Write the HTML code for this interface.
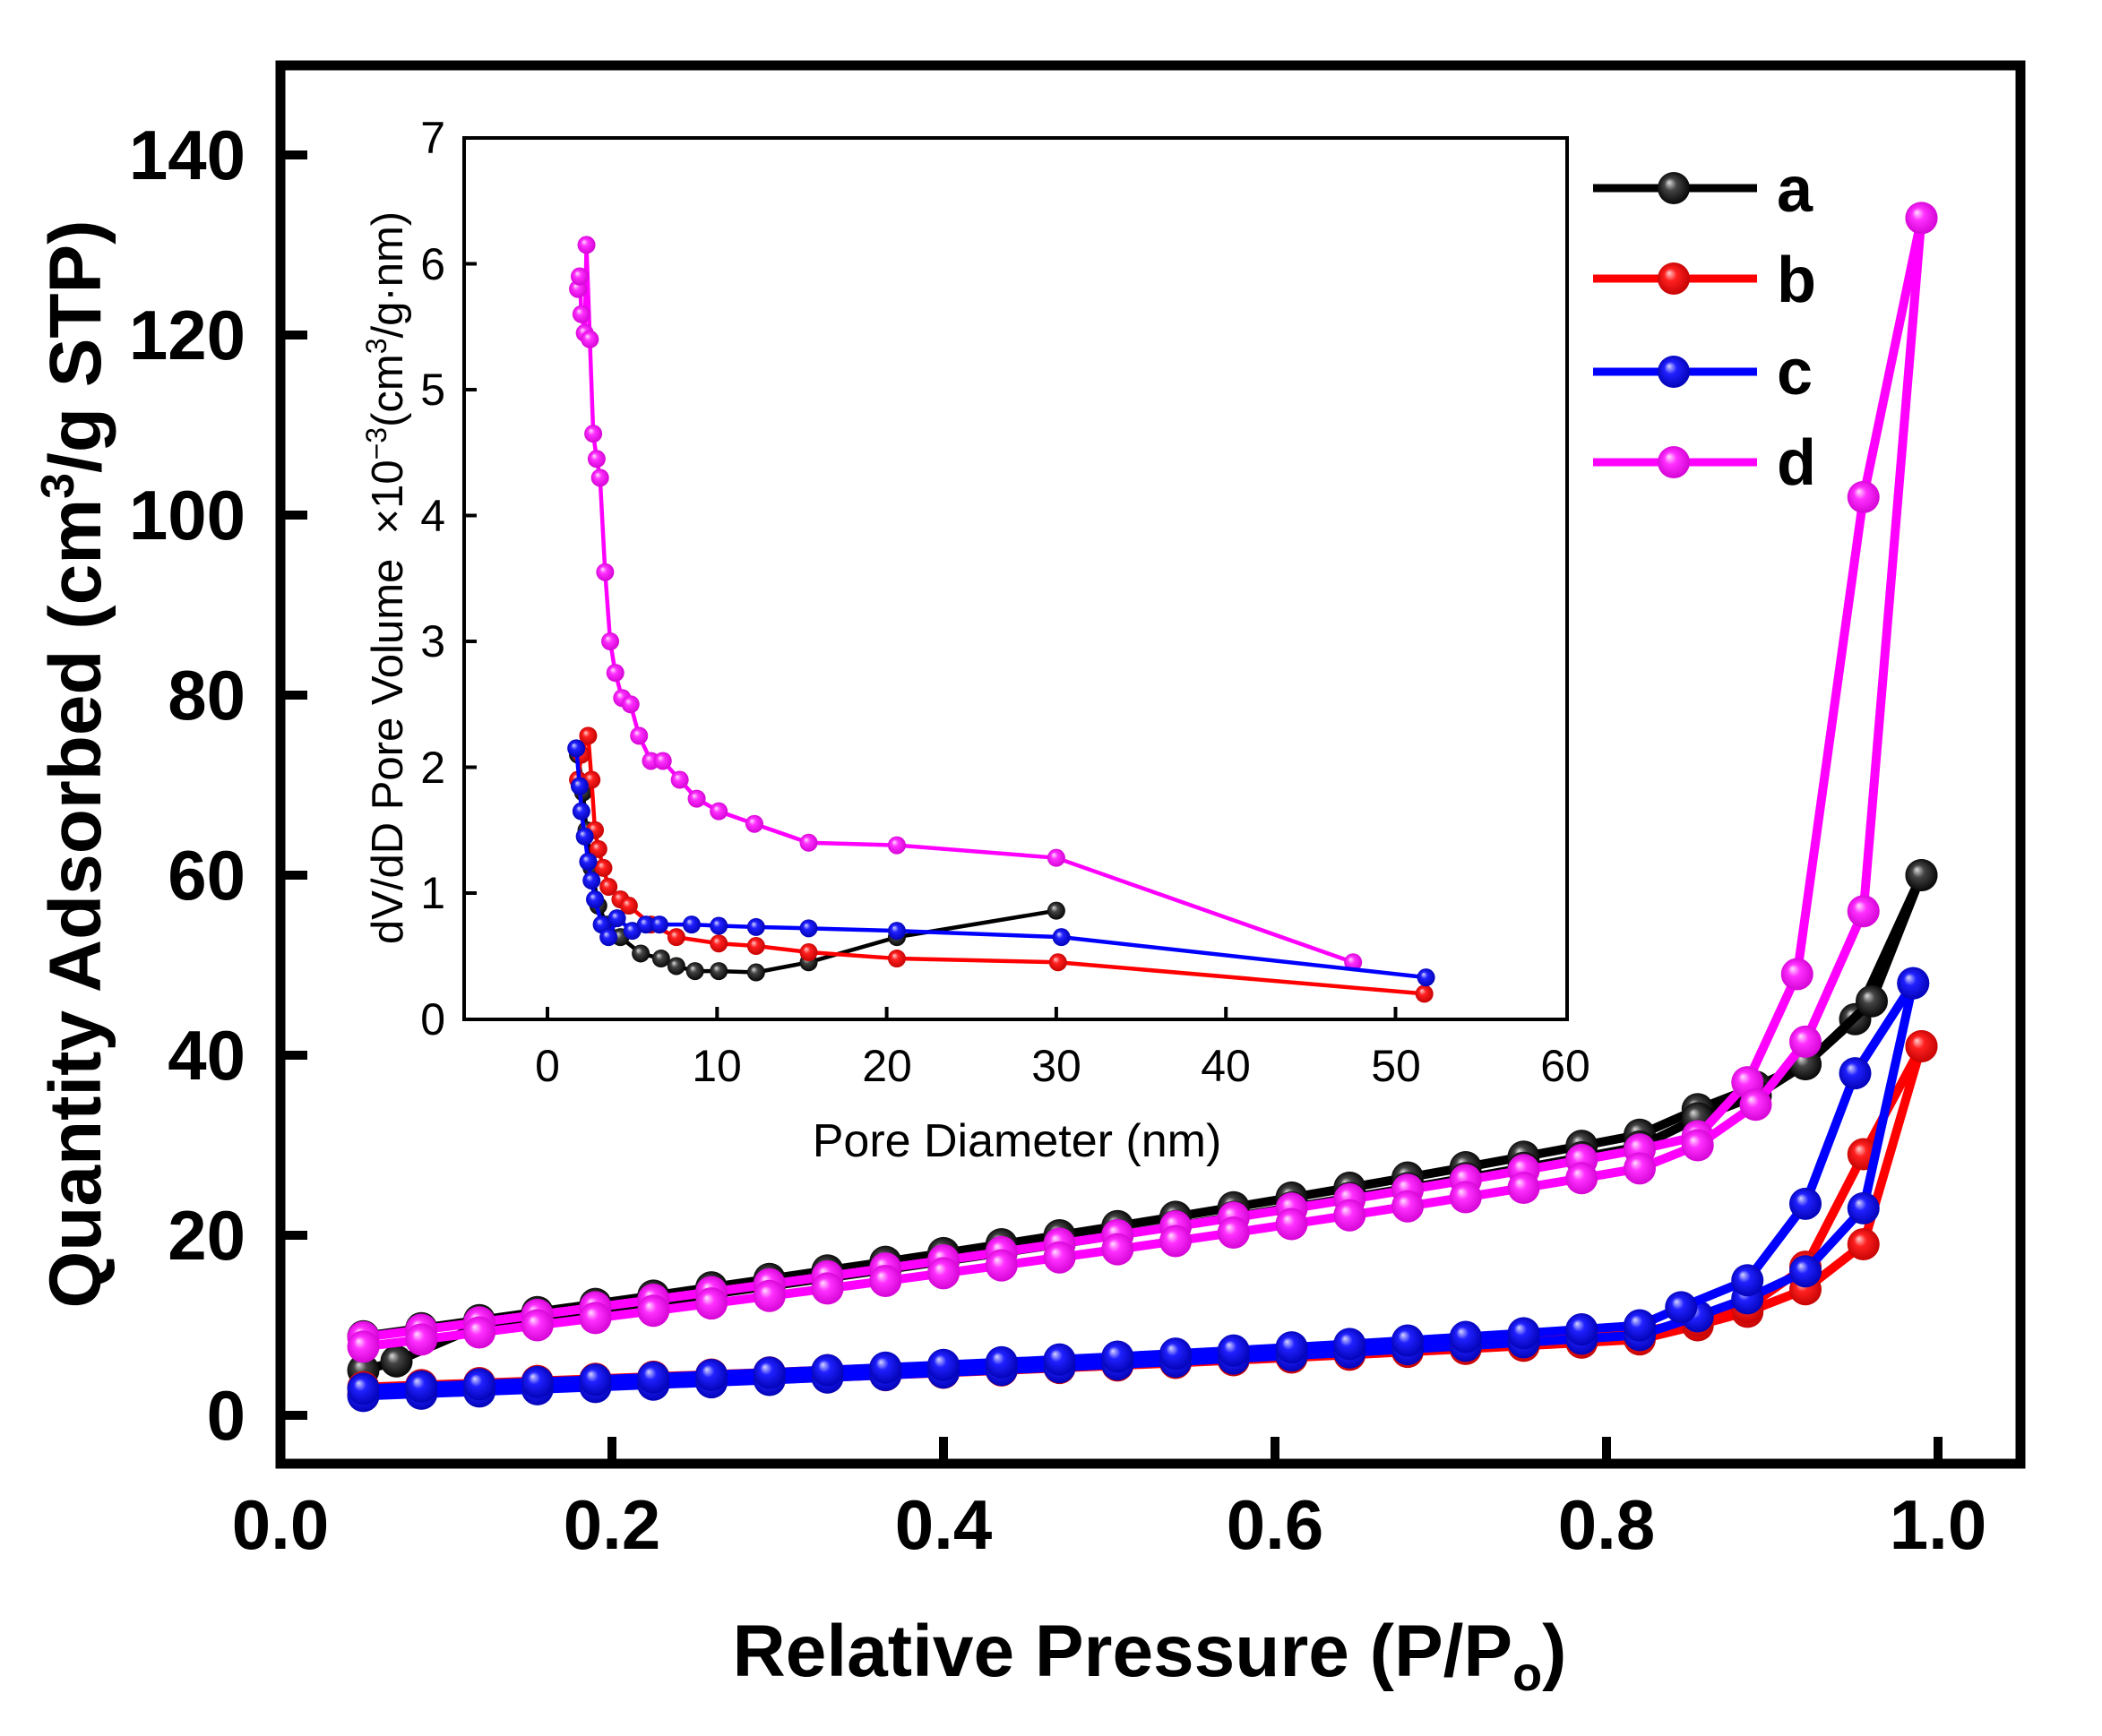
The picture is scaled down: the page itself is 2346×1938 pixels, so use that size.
<!DOCTYPE html>
<html><head><meta charset="utf-8">
<style>
html,body{margin:0;padding:0;background:#fff;}
svg{display:block;}
.b{font-family:"Liberation Sans",Arial,sans-serif;font-weight:bold;}
.r{font-family:"Liberation Sans",Arial,sans-serif;}
</style></head>
<body>
<svg id="s" width="2346" height="1938" viewBox="0 0 2346 1938" xmlns="http://www.w3.org/2000/svg">
<defs>
<radialGradient id="gk" cx="50%" cy="50%" r="55%" fx="35%" fy="32%"><stop offset="0" stop-color="#ddd"/><stop offset="0.35" stop-color="#444"/><stop offset="1" stop-color="#000"/></radialGradient>
<radialGradient id="gr" cx="50%" cy="50%" r="55%" fx="35%" fy="32%"><stop offset="0" stop-color="#ffd0d0"/><stop offset="0.35" stop-color="#ff2020"/><stop offset="1" stop-color="#c00000"/></radialGradient>
<radialGradient id="gb" cx="50%" cy="50%" r="55%" fx="35%" fy="32%"><stop offset="0" stop-color="#d8d8ff"/><stop offset="0.35" stop-color="#2020ff"/><stop offset="1" stop-color="#0000b0"/></radialGradient>
<radialGradient id="gm" cx="50%" cy="50%" r="55%" fx="35%" fy="32%"><stop offset="0" stop-color="#ffe0ff"/><stop offset="0.35" stop-color="#ff30ff"/><stop offset="1" stop-color="#d000d0"/></radialGradient>
</defs>
<g id="main"></g>
<rect x="313" y="73" width="1942" height="1561" fill="none" stroke="#000" stroke-width="11"/>
<g stroke="#000" stroke-width="10">
<line x1="313" y1="1580" x2="343" y2="1580"/><line x1="313" y1="1379" x2="343" y2="1379"/><line x1="313" y1="1178" x2="343" y2="1178"/><line x1="313" y1="977" x2="343" y2="977"/><line x1="313" y1="776" x2="343" y2="776"/><line x1="313" y1="575" x2="343" y2="575"/><line x1="313" y1="374" x2="343" y2="374"/><line x1="313" y1="173" x2="343" y2="173"/>
<line x1="683" y1="1634" x2="683" y2="1604"/><line x1="1053" y1="1634" x2="1053" y2="1604"/><line x1="1423" y1="1634" x2="1423" y2="1604"/><line x1="1793" y1="1634" x2="1793" y2="1604"/><line x1="2163" y1="1634" x2="2163" y2="1604"/>
</g>
<g class="b" font-size="78" text-anchor="end">
<text x="274" y="1607">0</text><text x="274" y="1406">20</text><text x="274" y="1205">40</text><text x="274" y="1004">60</text><text x="274" y="803">80</text><text x="274" y="602">100</text><text x="274" y="401">120</text><text x="274" y="200">140</text>
</g>
<g class="b" font-size="78" text-anchor="middle">
<text x="313" y="1729">0.0</text><text x="683" y="1729">0.2</text><text x="1053" y="1729">0.4</text><text x="1423" y="1729">0.6</text><text x="1793" y="1729">0.8</text><text x="2163" y="1729">1.0</text>
</g>
<text class="b" font-size="82" x="1283" y="1871" text-anchor="middle">Relative Pressure (P/P<tspan font-size="54" dy="16">o</tspan><tspan dy="-16">)</tspan></text>
<text class="b" font-size="82" transform="translate(112,853) rotate(-90)" text-anchor="middle">Quantity Adsorbed (cm<tspan font-size="52" dy="-30">3</tspan><tspan dy="30">/g STP)</tspan></text>

<g id="inset"></g>
<rect x="518" y="154" width="1231" height="984" fill="none" stroke="#000" stroke-width="4"/>
<g stroke="#000" stroke-width="4" id="itk"></g>
<g class="r" font-size="50" text-anchor="end">
<text x="497" y="1155">0</text><text x="497" y="1014">1</text><text x="497" y="874">2</text><text x="497" y="733">3</text><text x="497" y="593">4</text><text x="497" y="452">5</text><text x="497" y="312">6</text><text x="497" y="171">7</text>
</g>
<g class="r" font-size="50" text-anchor="middle">
<text x="611" y="1207">0</text><text x="800" y="1207">10</text><text x="990" y="1207">20</text><text x="1179" y="1207">30</text><text x="1368" y="1207">40</text><text x="1558" y="1207">50</text><text x="1747" y="1207">60</text>
</g>
<text class="r" font-size="52" x="1135" y="1291" text-anchor="middle">Pore Diameter (nm)</text>
<text class="r" font-size="49" transform="translate(449,645) rotate(-90)" text-anchor="middle" xml:space="preserve">dV/dD Pore Volume  ×10<tspan font-size="32" dy="-18">−3</tspan><tspan dy="18">(cm</tspan><tspan font-size="32" dy="-18">3</tspan><tspan dy="18">/g·nm)</tspan></text>

<g id="leg"></g>
<g class="b" font-size="72">
<text x="1983" y="236">a</text><text x="1983" y="337">b</text><text x="1983" y="440">c</text><text x="1983" y="541">d</text>
</g>
</svg>
<script>
var NS="http://www.w3.org/2000/svg";
function el(p,t,a){var e=document.createElementNS(NS,t);for(var k in a)e.setAttribute(k,a[k]);p.appendChild(e);return e;}
var C={a:["#000","url(#gk)"],b:["#f00","url(#gr)"],c:["#0000ff","url(#gb)"],d:["#ff00ff","url(#gm)"]};
var mx=function(p){return 313+p*1850;}, my=function(v){return 1580-v*10.05;};
var P=[0.05,0.085,0.12,0.155,0.19,0.225,0.26,0.295,0.33,0.365,0.4,0.435,0.47,0.505,0.54,0.575,0.61,0.645,0.68,0.715,0.75,0.785,0.82];
function mk(f){return P.map(function(p){return [p,f(p)];});}
var S={};
S.a=[mk(function(p){return 7.5+25.5*p+5*p*p*p;}).concat([[0.855,34],[0.89,36.5],[0.92,39],[0.95,44],[0.99,60]]),
     [[0.05,5],[0.07,6]].concat(mk(function(p){return 7+24.5*p+5*p*p*p;}).slice(2)).concat([[0.855,33],[0.89,35.5],[0.92,39],[0.96,46],[0.99,60]])];
S.d=[mk(function(p){return 7.5+23.5*p+5*p*p*p;}).concat([[0.855,31],[0.885,37],[0.915,49],[0.955,102],[0.99,133]]),
     mk(function(p){return 6.5+22.5*p+4.5*p*p*p;}).concat([[0.855,30],[0.89,34.5],[0.92,41.5],[0.955,56],[0.99,133]])];
S.b=[mk(function(p){return 2.0+6.5*p+2*p*p*p;}).concat([[0.855,10],[0.885,11.5],[0.92,14],[0.955,19],[0.99,41]]),
     mk(function(p){return 2.8+6.5*p+2*p*p*p;}).concat([[0.855,10.5],[0.885,12],[0.92,16.5],[0.955,29],[0.99,41]])];
S.c=[mk(function(p){return 1.8+7*p+2.5*p*p*p;}).concat([[0.855,11],[0.885,13],[0.92,16],[0.955,23],[0.985,48]]),
     mk(function(p){return 2.6+7*p+3*p*p*p;}).concat([[0.845,12],[0.885,15],[0.92,23.5],[0.95,38],[0.985,48]])];
var g=document.getElementById("main");
["a","d","b","c"].forEach(function(k){S[k].forEach(function(arr){
 el(g,"polyline",{points:arr.map(function(q){return mx(q[0])+","+my(q[1]);}).join(" "),fill:"none",stroke:C[k][0],"stroke-width":10,"stroke-linejoin":"round"});
 arr.forEach(function(q){el(g,"circle",{cx:mx(q[0]),cy:my(q[1]),r:18,fill:C[k][1]});});
});});
var ix=function(d){return 611+d*18.93;}, iy=function(v){return 1137.5-v*140.5;};
var I={
d:[[1.8,5.8],[1.9,5.9],[2.0,5.6],[2.2,5.45],[2.3,6.15],[2.5,5.4],[2.7,4.65],[2.9,4.45],[3.1,4.3],[3.4,3.55],[3.7,3.0],[4.0,2.75],[4.4,2.55],[4.9,2.5],[5.4,2.25],[6.1,2.05],[6.8,2.05],[7.8,1.9],[8.8,1.75],[10.1,1.65],[12.2,1.55],[15.4,1.4],[20.6,1.38],[30.0,1.28],[47.5,0.45]],
a:[[1.8,2.1],[2.1,1.8],[2.3,1.5],[2.6,1.2],[3.0,0.9],[3.5,0.75],[4.3,0.65],[5.5,0.52],[6.7,0.48],[7.6,0.42],[8.7,0.38],[10.1,0.38],[12.3,0.37],[15.4,0.45],[20.6,0.65],[30.0,0.86]],
b:[[1.8,1.9],[2.0,2.1],[2.4,2.25],[2.6,1.9],[2.8,1.5],[3.0,1.35],[3.3,1.2],[3.6,1.05],[4.3,0.95],[4.8,0.9],[6.1,0.75],[7.6,0.65],[10.1,0.6],[12.3,0.58],[15.4,0.53],[20.6,0.48],[30.1,0.45],[51.7,0.2]],
c:[[1.7,2.15],[1.9,1.85],[2.0,1.65],[2.2,1.45],[2.4,1.25],[2.6,1.1],[2.8,0.95],[3.2,0.75],[3.6,0.65],[4.1,0.8],[5.0,0.7],[5.8,0.75],[6.6,0.75],[8.5,0.75],[10.1,0.74],[12.3,0.73],[15.4,0.72],[20.6,0.7],[30.3,0.65],[51.8,0.33]]};
var gi=document.getElementById("inset");
["d","a","b","c"].forEach(function(k){var arr=I[k];
 el(gi,"polyline",{points:arr.map(function(q){return ix(q[0])+","+iy(q[1]);}).join(" "),fill:"none",stroke:C[k][0],"stroke-width":4.5});
 arr.forEach(function(q){el(gi,"circle",{cx:ix(q[0]),cy:iy(q[1]),r:10,fill:C[k][1]});});
});
var t=document.getElementById("itk");
for(var v=1;v<7;v++){el(t,"line",{x1:518,y1:iy(v),x2:532,y2:iy(v)});}
for(var d=0;d<=50;d+=10){el(t,"line",{x1:ix(d),y1:1138,x2:ix(d),y2:1124});}
var L=document.getElementById("leg");
[["a",210],["b",311],["c",415],["d",516]].forEach(function(r){
 el(L,"line",{x1:1778,y1:r[1],x2:1961,y2:r[1],stroke:C[r[0]][0],"stroke-width":9});
 el(L,"circle",{cx:1868,cy:r[1],r:18,fill:C[r[0]][1]});
});
</script>
</body></html>
